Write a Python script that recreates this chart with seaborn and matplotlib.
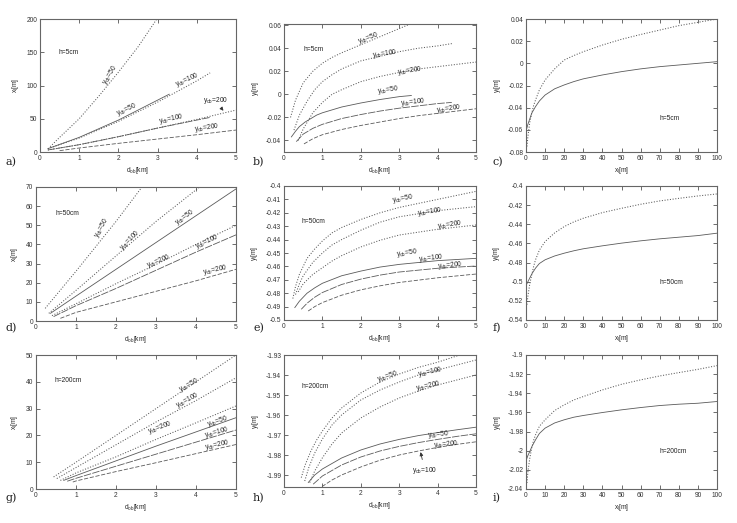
import numpy as np
import seaborn as sns
import matplotlib.pyplot as plt
from matplotlib.ticker import FuncFormatter

# ---- data (x in km / m, y in m) ----
# panel a : h=5cm, x_l vs d_ob
a_dot50_x = [0.26, 0.5, 1.0, 1.5, 2.0, 2.5, 2.98]
a_dot50_y = [8, 22, 50, 84, 120, 158, 200]
a_dot100_x = [0.2, 1, 2, 3, 4, 4.34]
a_dot100_y = [5, 21, 46, 75, 107, 119]
a_dot200_x = [0.2, 1, 2, 3, 4, 5]
a_dot200_y = [3, 11, 23, 36, 49, 63]
a_sol50_x = [0.2, 1, 2, 3, 3.3]
a_sol50_y = [5, 22, 48, 78, 87]
a_sol100_x = [0.2, 1, 2, 3, 4, 4.34]
a_sol100_y = [3, 11, 23, 36, 48, 52]
a_sol200_x = [0.5, 1, 2, 3, 4, 5]
a_sol200_y = [2, 6, 13, 19.5, 26, 33]

# panel b : h=5cm, y_l vs d_ob
b_dot50_x = [0.17, 0.3, 0.5, 0.75, 1, 1.25, 1.5, 2, 2.5, 3, 3.5]
b_dot50_y = [-0.020, -0.005, 0.010, 0.020, 0.027, 0.032, 0.036, 0.043, 0.050, 0.057, 0.064]
b_dot100_x = [0.26, 0.4, 0.6, 0.8, 1, 1.25, 1.5, 2, 2.5, 3, 3.5, 4, 4.37]
b_dot100_y = [-0.031, -0.018, -0.006, 0.004, 0.011, 0.017, 0.022, 0.029, 0.033,
              0.037, 0.040, 0.042, 0.044]
b_dot200_x = [0.37, 0.5, 0.75, 1, 1.25, 1.5, 2, 2.5, 3, 3.5, 4, 4.5, 5]
b_dot200_y = [-0.040, -0.030, -0.016, -0.007, 0.000, 0.004, 0.011, 0.0155, 0.019,
              0.022, 0.024, 0.026, 0.028]
b_sol50_x = [0.19, 0.3, 0.4, 0.55, 0.7, 0.85, 1, 1.5, 2, 2.5, 3, 3.32]
b_sol50_y = [-0.037, -0.032, -0.028, -0.024, -0.021, -0.018, -0.016, -0.011,
             -0.0075, -0.0045, -0.002, -0.001]
b_sol100_x = [0.32, 0.5, 0.75, 1, 1.5, 2, 2.5, 3, 3.5, 4, 4.37]
b_sol100_y = [-0.041, -0.0345, -0.0295, -0.026, -0.021, -0.0175, -0.0145, -0.012,
              -0.010, -0.008, -0.007]
b_sol200_x = [0.52, 0.75, 1, 1.5, 2, 2.5, 3, 3.5, 4, 4.5, 5]
b_sol200_y = [-0.043, -0.0385, -0.035, -0.0305, -0.027, -0.024, -0.021, -0.0185,
              -0.0165, -0.0145, -0.0125]

# panel c : h=5cm, y_l vs x_l
c_dot_x = [0.5, 1, 2, 3, 4, 5, 7, 10, 15, 20, 25, 30, 40, 50, 60, 70, 80, 90, 100]
c_dot_y = [-0.075, -0.066, -0.053, -0.045, -0.038, -0.033, -0.024, -0.015, -0.005,
           0.003, 0.007, 0.0105, 0.0165, 0.0217, 0.026, 0.030, 0.034, 0.037, 0.040]
c_sol_x = [0.2, 1, 2, 3, 4, 5, 7, 10, 15, 20, 25, 30, 40, 50, 60, 70, 80, 90, 100]
c_sol_y = [-0.060, -0.055, -0.050, -0.045, -0.042, -0.039, -0.034, -0.0286, -0.023,
           -0.0195, -0.0165, -0.014, -0.0105, -0.0075, -0.005, -0.003, -0.0015, 0.0,
           0.0015]

# panel d : h=50cm
d_dot50_x = [0.23, 1, 2, 2.65]
d_dot50_y = [6.6, 26, 52, 70]
d_dot100_x = [0.32, 1, 2, 3, 4.09]
d_dot100_y = [4, 16, 34, 52, 70]
d_dot200_x = [0.4, 1, 2, 3, 4, 5]
d_dot200_y = [2.8, 9, 19.5, 29.5, 40, 50]
d_sol50_x = [0.36, 1, 2, 3, 4, 5]
d_sol50_y = [4, 13, 27, 41, 55, 69]
d_sol100_x = [0.44, 1, 2, 3, 4, 5]
d_sol100_y = [2.3, 8, 17, 26.5, 36, 45]
d_sol200_x = [0.61, 1, 2, 3, 4, 5]
d_sol200_y = [1.4, 4.5, 10, 15.5, 21, 27]

# panel e : h=50cm
e_dot50_x = [0.23, 0.3, 0.4, 0.6, 0.8, 1, 1.25, 1.5, 2, 2.5, 3, 4, 5]
e_dot50_y = [-0.484, -0.475, -0.466, -0.454, -0.447, -0.441, -0.435, -0.431, -0.425,
             -0.420, -0.416, -0.410, -0.404]
e_dot100_x = [0.3, 0.4, 0.5, 0.75, 1, 1.25, 1.5, 2, 2.5, 3, 4, 5]
e_dot100_y = [-0.481, -0.473, -0.467, -0.457, -0.450, -0.444, -0.440, -0.433,
              -0.427, -0.423, -0.4184, -0.4154]
e_dot200_x = [0.37, 0.5, 0.75, 1, 1.25, 1.5, 2, 2.5, 3, 4, 5]
e_dot200_y = [-0.479, -0.473, -0.466, -0.461, -0.456, -0.452, -0.4455, -0.4405,
              -0.4366, -0.4323, -0.4291]
e_sol50_x = [0.28, 0.4, 0.6, 0.8, 1, 1.5, 2, 2.5, 3, 4, 5]
e_sol50_y = [-0.4908, -0.486, -0.480, -0.476, -0.4726, -0.467, -0.4635, -0.4605,
             -0.4585, -0.4557, -0.454]
e_sol100_x = [0.45, 0.6, 0.8, 1, 1.5, 2, 2.5, 3, 4, 5]
e_sol100_y = [-0.492, -0.4875, -0.483, -0.4795, -0.4735, -0.4695, -0.4665, -0.4642,
              -0.4614, -0.4597]
e_sol200_x = [0.63, 0.8, 1, 1.5, 2, 2.5, 3, 4, 5]
e_sol200_y = [-0.4933, -0.490, -0.487, -0.4815, -0.4775, -0.4745, -0.472, -0.4685,
              -0.4657]

# panel f : h=50cm
f_dot_x = [0.5, 1, 2, 3, 4, 5, 7, 10, 15, 20, 25, 30, 40, 50, 60, 70, 80, 90, 100]
f_dot_y = [-0.524, -0.515, -0.502, -0.493, -0.484, -0.477, -0.467, -0.458, -0.449,
           -0.4424, -0.4375, -0.4337, -0.4278, -0.4233, -0.4191, -0.4156, -0.4129,
           -0.4104, -0.4083]
f_sol_x = [0.2, 1, 2, 3, 5, 7, 10, 15, 20, 25, 30, 40, 50, 60, 70, 80, 90, 100]
f_sol_y = [-0.5032, -0.5, -0.496, -0.492, -0.4858, -0.481, -0.4771, -0.4731,
           -0.4702, -0.4677, -0.4656, -0.4625, -0.4597, -0.4573, -0.4552, -0.4535,
           -0.4518, -0.4493]

# panel g : h=200cm
g_dot50_x = [0.44, 1, 2, 3, 4, 5]
g_dot50_y = [4.5, 10, 20, 30, 40, 50]
g_dot100_x = [0.52, 1, 2, 3, 4, 5]
g_dot100_y = [3.9, 8, 16.5, 25, 33, 41.5]
g_dot200_x = [0.61, 1, 2, 3, 4, 5]
g_dot200_y = [3.2, 6, 12, 18.5, 24.7, 31]
g_sol50_x = [0.69, 1, 2, 3, 4, 5]
g_sol50_y = [3.2, 5, 10.5, 16, 21.3, 26.6]
g_sol100_x = [0.78, 1, 2, 3, 4, 5]
g_sol100_y = [2.9, 4, 8.5, 13, 17.5, 22]
g_sol200_x = [0.92, 1, 2, 3, 4, 5]
g_sol200_y = [2.6, 3, 6.5, 9.8, 13.2, 16.6]

# panel h : h=200cm
h_dot50_x = [0.45, 0.55, 0.7, 0.85, 1, 1.25, 1.5, 2, 2.5, 3, 3.5, 4, 4.58]
h_dot50_y = [-1.9913, -1.985, -1.978, -1.9725, -1.968, -1.9615, -1.9565, -1.949,
             -1.9435, -1.9395, -1.9362, -1.9336, -1.930]
h_dot100_x = [0.54, 0.65, 0.8, 1, 1.25, 1.5, 2, 2.5, 3, 3.5, 4, 4.5, 5]
h_dot100_y = [-1.993, -1.986, -1.979, -1.972, -1.965, -1.960, -1.9525, -1.9475,
              -1.9435, -1.940, -1.9375, -1.935, -1.9325]
h_dot200_x = [0.67, 0.8, 1, 1.25, 1.5, 2, 2.5, 3, 3.5, 4, 4.5, 5]
h_dot200_y = [-1.9938, -1.988, -1.9814, -1.9745, -1.969, -1.9615, -1.956, -1.9515,
              -1.948, -1.945, -1.9425, -1.940]
h_sol50_x = [0.63, 0.8, 1, 1.5, 2, 2.5, 3, 3.5, 4, 4.5, 5]
h_sol50_y = [-1.9938, -1.990, -1.987, -1.9815, -1.9775, -1.9745, -1.9722, -1.9703,
             -1.9688, -1.9674, -1.9661]
h_sol100_x = [0.76, 1, 1.5, 2, 2.5, 3, 3.5, 4, 4.5, 5]
h_sol100_y = [-1.9946, -1.9905, -1.985, -1.981, -1.978, -1.9757, -1.9738, -1.9722,
              -1.9707, -1.9694]
h_sol200_x = [0.99, 1.25, 1.5, 2, 2.5, 3, 3.5, 4, 4.5, 5]
h_sol200_y = [-1.9958, -1.9925, -1.990, -1.986, -1.9826, -1.980, -1.978, -1.9762,
              -1.9747, -1.9734]

# panel i : h=200cm
i_dot_x = [0.5, 1, 2, 3, 4, 5, 7, 10, 15, 20, 25, 30, 40, 50, 60, 70, 80, 90, 100]
i_dot_y = [-2.0337, -2.022, -2.0077, -1.997, -1.989, -1.9834, -1.9745, -1.9677,
           -1.958, -1.9521, -1.947, -1.9434, -1.9365, -1.9306, -1.926, -1.9219,
           -1.9184, -1.915, -1.9111]
i_sol_x = [0.2, 1, 2, 3, 5, 7, 10, 15, 20, 25, 30, 40, 50, 60, 70, 80, 90, 100]
i_sol_y = [-2.0094, -2.005, -2.0007, -1.996, -1.9886, -1.982, -1.9764, -1.971,
           -1.9677, -1.965, -1.9632, -1.9601, -1.9573, -1.9549, -1.9528, -1.9514,
           -1.9504, -1.9486]

# ---- style ----
sns.set_style('ticks')
plt.rcParams['font.family'] = ['Liberation Sans', 'DejaVu Sans']
plt.rcParams['mathtext.fontset'] = 'custom'
plt.rcParams['mathtext.rm'] = 'Liberation Sans'
plt.rcParams['mathtext.it'] = 'Liberation Sans'
plt.rcParams['mathtext.default'] = 'regular'
plt.rcParams['axes.unicode_minus'] = False

LC = '#5a5a5a'
DOT = dict(color=LC, linewidth=0.75, linestyle=(0, (1, 1.6)))
SOL = {50: dict(color=LC, linewidth=0.6, linestyle='-'),
       100: dict(color=LC, linewidth=0.6, linestyle=(0, (9, 1.5))),
       200: dict(color=LC, linewidth=0.6, linestyle=(0, (5, 2)))}
FS = 4.8

W, H = 737, 523
fig = plt.figure(figsize=(W / 100, H / 100), dpi=100)


def make_ax(l, r, t, b):
    ax = fig.add_axes([l / W, 1 - b / H, (r - l) / W, (b - t) / H])
    ax.tick_params(direction='in', top=True, right=True, length=3, width=0.5,
                   labelsize=FS, pad=2, colors='#333333')
    for s in ax.spines.values():
        s.set_linewidth(0.8)
        s.set_color('#666666')
    ax.yaxis.set_major_formatter(FuncFormatter(lambda v, p: '%g' % round(v, 4)))
    ax.xaxis.set_major_formatter(FuncFormatter(lambda v, p: '%g' % round(v, 4)))
    return ax


def line(ax, xs, ys, kw):
    sns.lineplot(x=xs, y=ys, ax=ax, sort=False, estimator=None, **kw)


def lab(ax, x, y, v, rot):
    ax.text(x, y, r'$y_{ob}$=%d' % v, fontsize=FS, rotation=rot,
            rotation_mode='anchor', ha='center', va='center', color='#222222')


def finish(ax, xlim, ylim, xt, yt, xl, yl, htxt, hx, hy):
    ax.set_xlim(*xlim)
    ax.set_ylim(*ylim)
    ax.set_xticks(xt)
    ax.set_yticks(yt)
    ax.set_xlabel(xl, fontsize=FS, labelpad=2)
    ax.set_ylabel(yl, fontsize=FS, labelpad=4)
    ax.text(hx, hy, htxt, fontsize=FS, ha='left', va='center', color='#222222')


DLAB = r'$d_{ob}$[km]'
XLAB = r'$x_l$[m]'
YLAB = r'$y_l$[m]'
kmt = np.arange(0, 6, 1)
mt = np.arange(0, 101, 10)

# --- a ---
ax = make_ax(40, 236, 19, 152)
line(ax, a_dot50_x, a_dot50_y, DOT)
line(ax, a_dot100_x, a_dot100_y, DOT)
line(ax, a_dot200_x, a_dot200_y, DOT)
line(ax, a_sol50_x, a_sol50_y, SOL[50])
line(ax, a_sol100_x, a_sol100_y, SOL[100])
line(ax, a_sol200_x, a_sol200_y, SOL[200])
lab(ax, 1.79, 116, 50, 58)
lab(ax, 3.75, 108, 100, 24)
lab(ax, 2.21, 64, 50, 24)
lab(ax, 3.36, 50, 100, 12)
lab(ax, 4.26, 36, 200, 8)
ax.annotate(r'$y_{ob}$=200', xy=(4.68, 62), xytext=(4.47, 77), fontsize=FS,
            ha='center', va='center', color='#222222',
            arrowprops=dict(arrowstyle='-|>', color='#333333', lw=0.6,
                            mutation_scale=5))
finish(ax, (0, 5), (0, 200), kmt, np.arange(0, 201, 50), DLAB, XLAB,
       'h=5cm', 0.47, 150)

# --- b ---
ax = make_ax(284, 476, 24, 152)
line(ax, b_dot50_x, b_dot50_y, DOT)
line(ax, b_dot100_x, b_dot100_y, DOT)
line(ax, b_dot200_x, b_dot200_y, DOT)
line(ax, b_sol50_x, b_sol50_y, SOL[50])
line(ax, b_sol100_x, b_sol100_y, SOL[100])
line(ax, b_sol200_x, b_sol200_y, SOL[200])
lab(ax, 2.19, 0.049, 50, 20)
lab(ax, 2.63, 0.035, 100, 8)
lab(ax, 3.28, 0.0207, 200, 8)
lab(ax, 2.71, 0.004, 50, 8)
lab(ax, 3.37, -0.0066, 100, 6)
lab(ax, 4.28, -0.0124, 200, 8)
finish(ax, (0, 5), (-0.05, 0.061), kmt, np.round(np.arange(-0.04, 0.061, 0.02), 3),
       DLAB, YLAB, 'h=5cm', 0.5, 0.039)

# --- c ---
ax = make_ax(526, 717, 19, 152)
line(ax, c_dot_x, c_dot_y, DOT)
line(ax, c_sol_x, c_sol_y, SOL[50])
finish(ax, (0, 100), (-0.08, 0.04), mt, np.round(np.arange(-0.08, 0.041, 0.02), 3),
       XLAB, YLAB, 'h=5cm', 70, -0.0496)

# --- d ---
ax = make_ax(36, 236, 187, 321)
line(ax, d_dot50_x, d_dot50_y, DOT)
line(ax, d_dot100_x, d_dot100_y, DOT)
line(ax, d_dot200_x, d_dot200_y, DOT)
line(ax, d_sol50_x, d_sol50_y, SOL[50])
line(ax, d_sol100_x, d_sol100_y, SOL[100])
line(ax, d_sol200_x, d_sol200_y, SOL[200])
lab(ax, 1.65, 48.5, 50, 60)
lab(ax, 2.36, 42.4, 100, 45)
lab(ax, 3.73, 54, 50, 35)
lab(ax, 3.07, 31.5, 200, 22)
lab(ax, 4.28, 41.5, 100, 25)
lab(ax, 4.48, 26.7, 200, 12)
finish(ax, (0, 5), (0, 70), kmt, np.arange(0, 71, 10), DLAB, XLAB,
       'h=50cm', 0.48, 56.4)

# --- e ---
ax = make_ax(284, 476, 186, 320)
line(ax, e_dot50_x, e_dot50_y, DOT)
line(ax, e_dot100_x, e_dot100_y, DOT)
line(ax, e_dot200_x, e_dot200_y, DOT)
line(ax, e_sol50_x, e_sol50_y, SOL[50])
line(ax, e_sol100_x, e_sol100_y, SOL[100])
line(ax, e_sol200_x, e_sol200_y, SOL[200])
lab(ax, 3.1, -0.4092, 50, 10)
lab(ax, 3.8, -0.4192, 100, 8)
lab(ax, 4.32, -0.4291, 200, 8)
lab(ax, 3.19, -0.4502, 50, 8)
lab(ax, 3.84, -0.454, 100, 6)
lab(ax, 4.32, -0.459, 200, 5)
finish(ax, (0, 5), (-0.5, -0.4), kmt, np.round(np.arange(-0.5, -0.399, 0.01), 3),
       DLAB, YLAB, 'h=50cm', 0.45, -0.4266)

# --- f ---
ax = make_ax(526, 717, 186, 320)
line(ax, f_dot_x, f_dot_y, DOT)
line(ax, f_sol_x, f_sol_y, SOL[50])
finish(ax, (0, 100), (-0.54, -0.4), mt, np.round(np.arange(-0.54, -0.399, 0.02), 3),
       XLAB, YLAB, 'h=50cm', 70, -0.5007)

# --- g ---
ax = make_ax(36, 236, 355, 489)
line(ax, g_dot50_x, g_dot50_y, DOT)
line(ax, g_dot100_x, g_dot100_y, DOT)
line(ax, g_dot200_x, g_dot200_y, DOT)
line(ax, g_sol50_x, g_sol50_y, SOL[50])
line(ax, g_sol100_x, g_sol100_y, SOL[100])
line(ax, g_sol200_x, g_sol200_y, SOL[200])
lab(ax, 3.82, 38.8, 50, 28)
lab(ax, 3.78, 33, 100, 28)
lab(ax, 3.11, 23, 200, 20)
lab(ax, 4.53, 25.3, 50, 18)
lab(ax, 4.53, 21, 100, 15)
lab(ax, 4.53, 16.5, 200, 12)
finish(ax, (0, 5), (0, 50), kmt, np.arange(0, 51, 10), DLAB, XLAB,
       'h=200cm', 0.47, 40.3)

# --- h ---
ax = make_ax(284, 476, 355, 487)
line(ax, h_dot50_x, h_dot50_y, DOT)
line(ax, h_dot100_x, h_dot100_y, DOT)
line(ax, h_dot200_x, h_dot200_y, DOT)
line(ax, h_sol50_x, h_sol50_y, SOL[50])
line(ax, h_sol100_x, h_sol100_y, SOL[100])
line(ax, h_sol200_x, h_sol200_y, SOL[200])
lab(ax, 2.71, -1.9408, 50, 18)
lab(ax, 3.8, -1.9383, 100, 12)
lab(ax, 3.76, -1.9457, 200, 12)
lab(ax, 4.02, -1.9698, 50, 5)
lab(ax, 4.23, -1.9748, 200, 5)
ax.annotate(r'$y_{ob}$=100', xy=(3.54, -1.9772), xytext=(3.67, -1.988),
            fontsize=FS, ha='center', va='center', color='#222222',
            arrowprops=dict(arrowstyle='-|>', color='#333333', lw=0.6,
                            mutation_scale=5))
finish(ax, (0, 5), (-1.996, -1.93), kmt, np.round(np.arange(-1.99, -1.929, 0.01), 3),
       DLAB, YLAB, 'h=200cm', 0.45, -1.9457)

# --- i ---
ax = make_ax(526, 717, 355, 489)
line(ax, i_dot_x, i_dot_y, DOT)
line(ax, i_sol_x, i_sol_y, SOL[50])
finish(ax, (0, 100), (-2.04, -1.9), mt, np.round(np.arange(-2.04, -1.899, 0.02), 3),
       XLAB, YLAB, 'h=200cm', 70, -2.0007)

# panel letters
letters = ['a)', 'b)', 'c)', 'd)', 'e)', 'f)', 'g)', 'h)', 'i)']
lx = [5, 253, 493]
ly = [162, 328, 498]
for k, t in enumerate(letters):
    fig.text(lx[k % 3] / W, 1 - ly[k // 3] / H, t, fontsize=8,
             family='DejaVu Serif', ha='left', va='center', color='#222222')

fig.savefig('out.png', dpi=100)
